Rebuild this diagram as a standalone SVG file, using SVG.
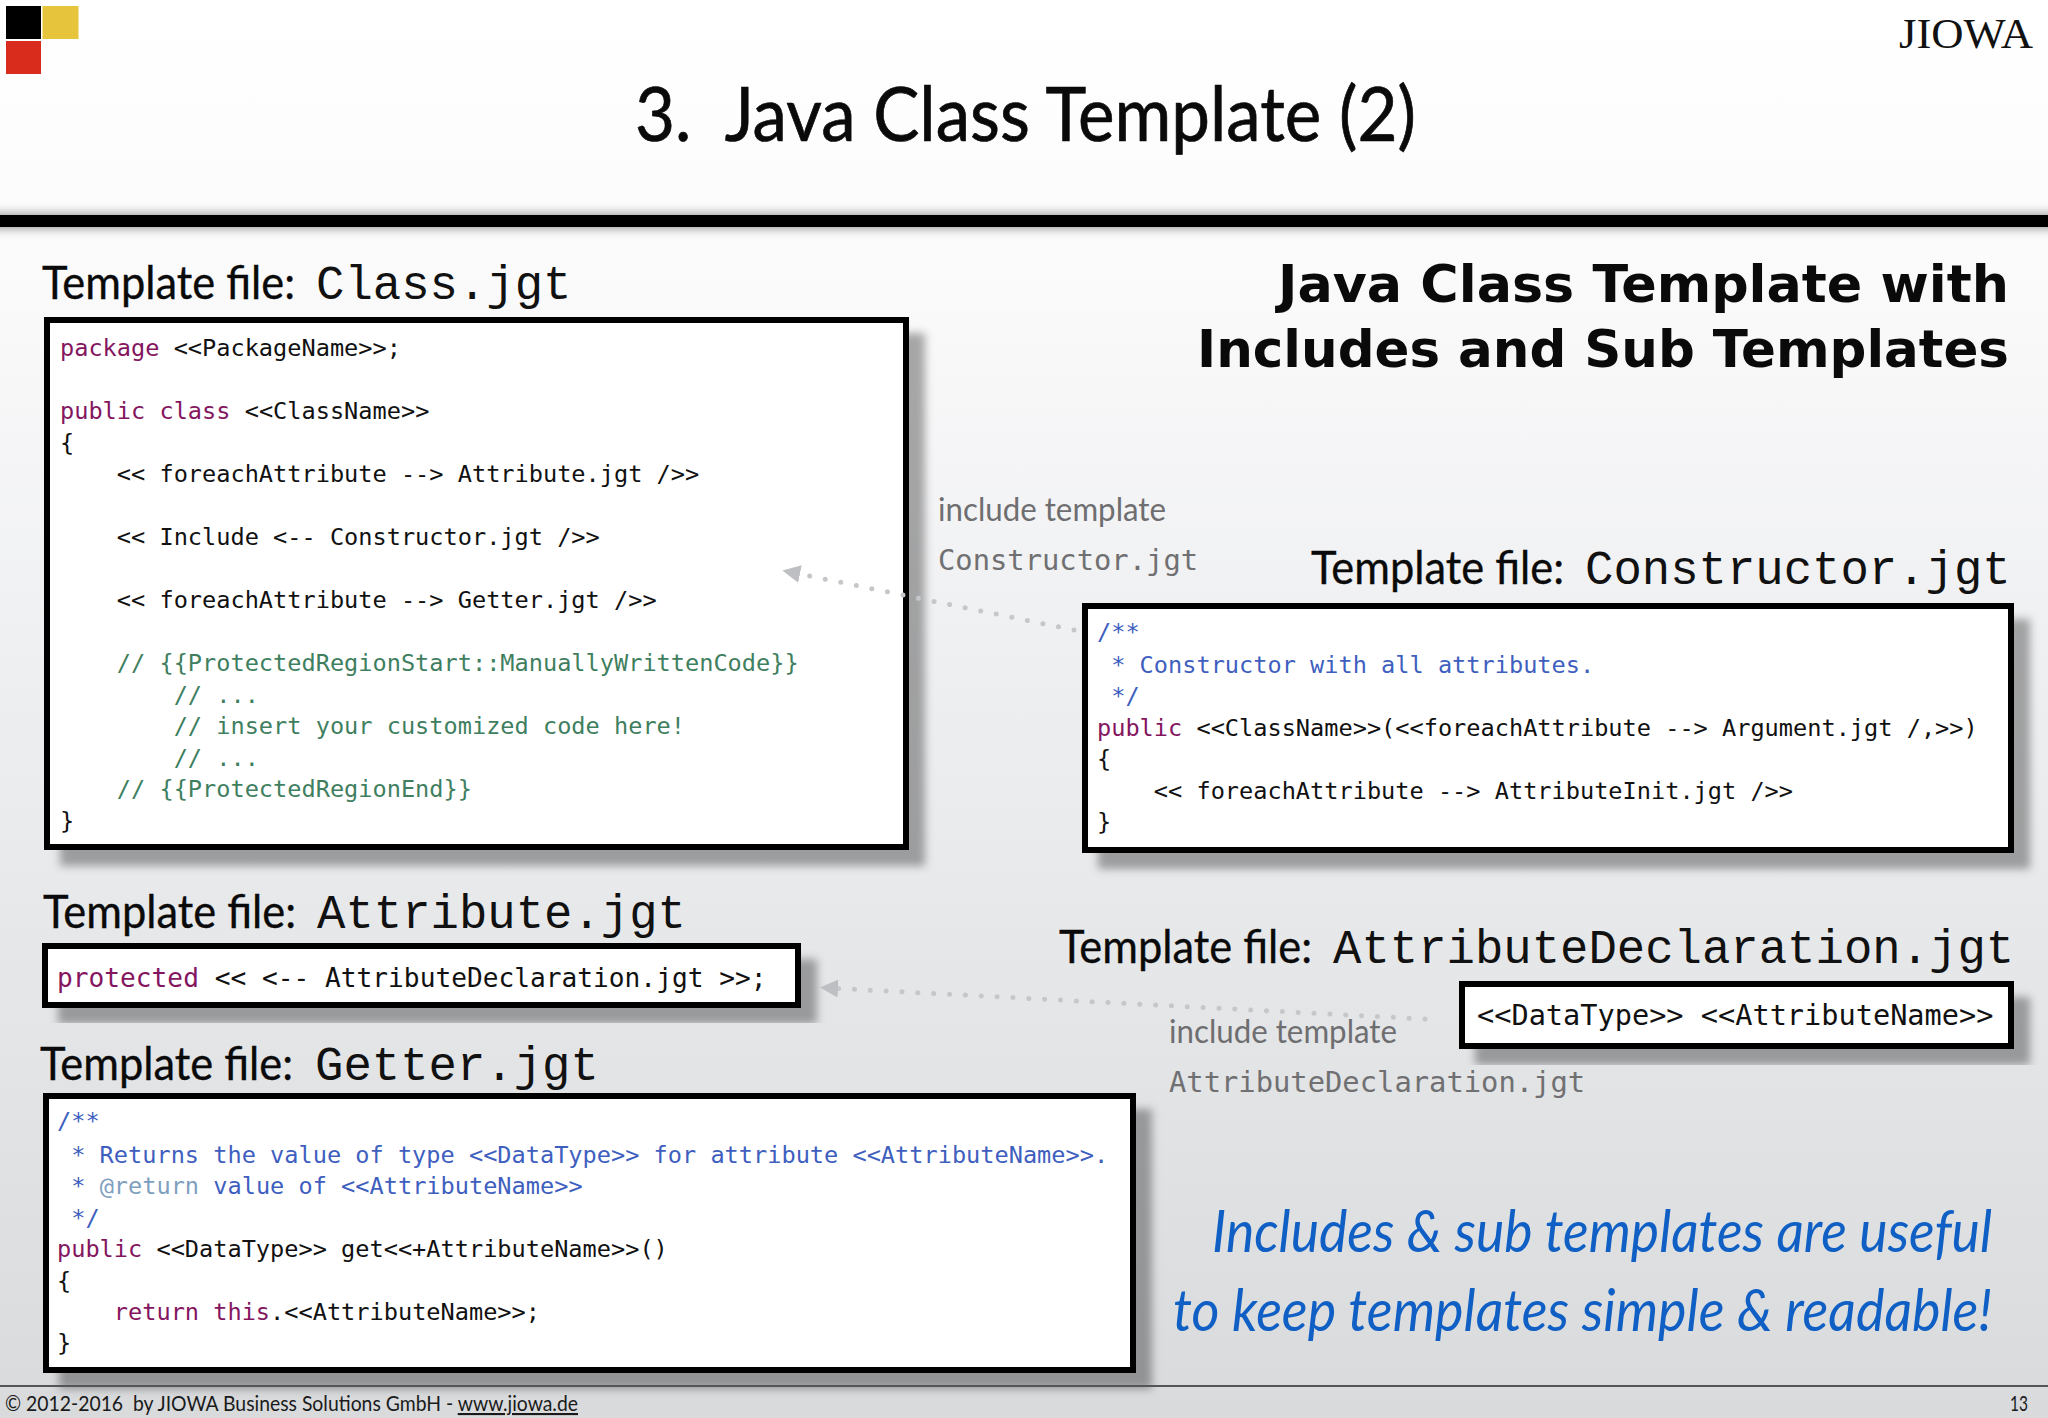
<svg xmlns="http://www.w3.org/2000/svg" width="2048" height="1418" viewBox="0 0 2048 1418">
<style>
text{white-space:pre}
.g{font-family:Lato,"Noto Sans",sans-serif;fill:#0a0a0a}
.h{font-size:46px;stroke:#0a0a0a;stroke-width:.35px}
.m{font-family:"Liberation Mono",monospace;font-size:47.300px;fill:#111}
.c{font-family:"DejaVu Sans Mono",monospace;font-size:23.6px;fill:#111}
.k{fill:#84165f}.n{fill:#3f7f5f}.d{fill:#3f5fbf}.t{fill:#7f9fbf}
.b{fill:#fff;stroke:#000;stroke-width:6;filter:url(#s)}
.l{font-family:Lato,"Noto Sans",sans-serif;font-size:33px;fill:#6e6e70}
.lm{font-family:"DejaVu Sans Mono",monospace;font-size:28.8px;fill:#707072}
.u{font-family:Lato,"Noto Sans",sans-serif;font-style:italic;font-size:58px;fill:#0f5fc4}
.f{font-family:Lato,"Noto Sans",sans-serif;font-size:21px;fill:#1a1a1a}
.r{font-family:"DejaVu Sans",sans-serif;font-weight:bold;font-size:52px;fill:#0a0a0a}
.dot{fill:none;stroke:#c6c7cb;stroke-width:5;stroke-linecap:round;stroke-dasharray:0 15.87;marker-end:url(#a)}
</style>
<defs>
<linearGradient id="bg" x1="0" y1="0" x2="0" y2="1"><stop offset="0" stop-color="#ffffff"/><stop offset=".15" stop-color="#fcfcfd"/><stop offset="1" stop-color="#d8dadc"/></linearGradient>
<filter id="s" x="-10%" y="-20%" width="125%" height="150%"><feDropShadow dx="16" dy="16" stdDeviation="4" flood-color="#000" flood-opacity=".33"/></filter>
<filter id="rs" x="-5%" y="-300%" width="110%" height="700%"><feDropShadow dx="0" dy="0" stdDeviation="6" flood-color="#000" flood-opacity=".5"/></filter>
<marker id="a" markerUnits="userSpaceOnUse" markerWidth="20" markerHeight="20" refX="0" refY="9" orient="auto"><path d="M0 0L0 18L18 9Z" fill="#bebfc3"/></marker>
</defs>
<rect width="2048" height="1418" fill="url(#bg)"/>
<g id="logo"><rect x="6" y="6" width="35" height="33" fill="#000"/><rect x="42.500" y="6" width="36" height="33" fill="#e6c43c"/><rect x="6" y="41" width="35" height="33" fill="#da2c1c"/></g>
<g id="header">
<text class="g" x="635" y="141" font-size="76" stroke="#0a0a0a" stroke-width=".7" textLength="781" lengthAdjust="spacingAndGlyphs">3.  Java Class Template (2)</text>
<text x="1899" y="48" font-family="Liberation Serif,serif" font-size="43" fill="#111" textLength="134" lengthAdjust="spacingAndGlyphs">JIOWA</text>
<rect x="-20" y="215" width="2088" height="12" fill="#000" filter="url(#rs)"/>
<text class="r" x="1278" y="302" textLength="731" lengthAdjust="spacingAndGlyphs">Java Class Template with</text>
<text class="r" x="1197" y="367" textLength="812" lengthAdjust="spacingAndGlyphs">Includes and Sub Templates</text>
</g>
<g id="class-template">
<text class="g h" x="42" y="299" textLength="253" lengthAdjust="spacingAndGlyphs">Template file:</text><text class="m" x="316" y="299">Class.jgt</text>
<rect class="b" x="47" y="320" width="859" height="527"/>
<text class="c" x="60" y="356"><tspan class="k">package</tspan> &lt;&lt;PackageName&gt;&gt;;</text>
<text class="c" x="60" y="419"><tspan class="k">public class</tspan> &lt;&lt;ClassName&gt;&gt;</text>
<text class="c" x="60" y="451">{</text>
<text class="c" x="60" y="482">    &lt;&lt; foreachAttribute --&gt; Attribute.jgt /&gt;&gt;</text>
<text class="c" x="60" y="545">    &lt;&lt; Include &lt;-- Constructor.jgt /&gt;&gt;</text>
<text class="c" x="60" y="608">    &lt;&lt; foreachAttribute --&gt; Getter.jgt /&gt;&gt;</text>
<text class="c n" x="60" y="671">    // {{ProtectedRegionStart::ManuallyWrittenCode}}</text>
<text class="c n" x="60" y="703">        // ...</text>
<text class="c n" x="60" y="734">        // insert your customized code here!</text>
<text class="c n" x="60" y="766">        // ...</text>
<text class="c n" x="60" y="797">    // {{ProtectedRegionEnd}}</text>
<text class="c" x="60" y="829">}</text>
</g>
<g id="constructor-template">
<text class="g h" x="1311" y="584" textLength="253" lengthAdjust="spacingAndGlyphs">Template file:</text><text class="m" x="1585" y="584">Constructor.jgt</text>
<rect class="b" x="1085" y="606" width="926" height="244"/>
<text class="c d" x="1097" y="640">/**</text>
<text class="c d" x="1097" y="673"> * Constructor with all attributes.</text>
<text class="c d" x="1097" y="704"> */</text>
<text class="c" x="1097" y="736"><tspan class="k">public</tspan> &lt;&lt;ClassName&gt;&gt;(&lt;&lt;foreachAttribute --&gt; Argument.jgt /,&gt;&gt;)</text>
<text class="c" x="1097" y="767">{</text>
<text class="c" x="1097" y="799">    &lt;&lt; foreachAttribute --&gt; AttributeInit.jgt /&gt;&gt;</text>
<text class="c" x="1097" y="830">}</text>
</g>
<g id="attribute-template">
<text class="g h" x="43" y="928" textLength="253" lengthAdjust="spacingAndGlyphs">Template file:</text><text class="m" x="317" y="928">Attribute.jgt</text>
<rect class="b" x="45" y="946" width="753" height="59"/>
<text class="c" x="57" y="987" style="font-size:26.2px"><tspan class="k">protected</tspan> &lt;&lt; &lt;-- AttributeDeclaration.jgt &gt;&gt;;</text>
</g>
<g id="attribute-declaration-template">
<text class="g h" x="1059" y="963" textLength="253" lengthAdjust="spacingAndGlyphs">Template file:</text><text class="m" x="1333" y="963">AttributeDeclaration.jgt</text>
<rect class="b" x="1462" y="984" width="549" height="62"/>
<text class="c" x="1477" y="1025" style="font-size:28.600px">&lt;&lt;DataType&gt;&gt; &lt;&lt;AttributeName&gt;&gt;</text>
</g>
<g id="getter-template">
<text class="g h" x="40" y="1080" textLength="253" lengthAdjust="spacingAndGlyphs">Template file:</text><text class="m" x="315" y="1080">Getter.jgt</text>
<rect class="b" x="46" y="1096" width="1087" height="274"/>
<text class="c d" x="57" y="1129">/**</text>
<text class="c d" x="57" y="1163"> * Returns the value of type &lt;&lt;DataType&gt;&gt; for attribute &lt;&lt;AttributeName&gt;&gt;.</text>
<text class="c d" x="57" y="1194"> * <tspan class="t">@return</tspan> value of &lt;&lt;AttributeName&gt;&gt;</text>
<text class="c d" x="57" y="1226"> */</text>
<text class="c" x="57" y="1257"><tspan class="k">public</tspan> &lt;&lt;DataType&gt;&gt; get&lt;&lt;+AttributeName&gt;&gt;()</text>
<text class="c" x="57" y="1289">{</text>
<text class="c" x="57" y="1320">    <tspan class="k">return this</tspan>.&lt;&lt;AttributeName&gt;&gt;;</text>
<text class="c" x="57" y="1351">}</text>
</g>
<g id="connectors">
<path class="dot" d="M1074 630L800 574"/>
<path class="dot" d="M1425 1019L838 988.500"/>
</g>
<g id="labels">
<text class="l" x="938" y="521" textLength="228" lengthAdjust="spacingAndGlyphs">include template</text>
<text class="lm" x="938" y="570">Constructor.jgt</text>
<text class="l" x="1169" y="1043" textLength="228" lengthAdjust="spacingAndGlyphs">include template</text>
<text class="lm" x="1169" y="1092">AttributeDeclaration.jgt</text>
<text class="u" x="1212" y="1252" textLength="780" lengthAdjust="spacingAndGlyphs">Includes &amp; sub templates are useful</text>
<text class="u" x="1173" y="1331" textLength="819" lengthAdjust="spacingAndGlyphs">to keep templates simple &amp; readable!</text>
</g>
<g id="footer">
<rect x="0" y="1385" width="2048" height="2" fill="#555"/>
<text class="f" x="5" y="1411" textLength="573" lengthAdjust="spacingAndGlyphs">© 2012-2016  by JIOWA Business Solutions GmbH - <tspan text-decoration="underline">www.jiowa.de</tspan></text>
<text class="f" x="2010" y="1411" textLength="18" lengthAdjust="spacingAndGlyphs">13</text>
</g>
</svg>
